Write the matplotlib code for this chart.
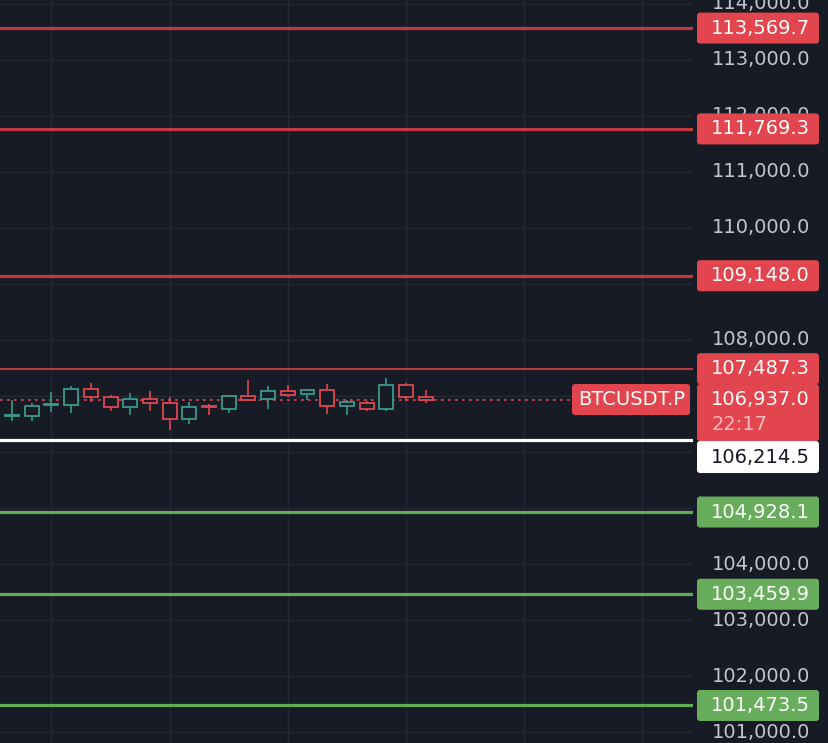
import matplotlib.pyplot as plt
from matplotlib.patches import FancyBboxPatch, Rectangle

plt.rcParams['font.family'] = ['DejaVu Sans']

# candles (open, high, low, close)
opens = [106650, 106638, 106845, 106834, 107130, 106977, 106809, 106952, 106870, 106584, 106813,
         106768, 107000, 106941, 107095, 107030, 107102, 106816, 106880, 106763, 107197, 106975]
highs = [106930, 106870, 107071, 107179, 107238, 107018, 107048, 107084, 106977, 106888, 106861,
         107018, 107286, 107173, 107202, 107125, 107209, 106929, 106916, 107327, 107227, 107107]
lows = [106545, 106559, 106714, 106702, 106898, 106737, 106661, 106737, 106393, 106495, 106666,
        106696, 106916, 106773, 106988, 106923, 106679, 106661, 106737, 106737, 106905, 106870]
closes = [106660, 106816, 106858, 107130, 106982, 106809, 106952, 106870, 106584, 106798, 106795,
          106995, 106934, 107095, 107023, 107102, 106816, 106888, 106763, 107197, 106977, 106937]

resistance = [113569.7, 111769.3, 109148.0]
near_resistance = 107487.3
pivot = 106214.5
support = [104928.1, 103459.9, 101473.5]
last_price = 106937.0
countdown = '22:17'
symbol = 'BTCUSDT.P'
axis_ticks = list(range(101000, 114001, 1000))

bg = '#171b26'
grid_c = '#252935'
up_c = '#3a9a8a'
down_c = '#e0474f'
red_line = '#c0393f'
red_lbl = '#e2454e'
green_line = '#5fae55'
green_lbl = '#67ad5b'
tick_c = '#c3c6ce'

W, H = 829, 743
fig = plt.figure(figsize=(W / 100, H / 100), dpi=100, facecolor=bg)
ax = fig.add_axes([0, 0, 693 / W, 1])
ax.set_facecolor(bg)

ymin, ymax = 100803.6, 114071.4
ppx = (ymax - ymin) / H  # price units per pixel
ax.set_ylim(ymin, ymax)
ax.set_xlim(-0.61, 34.57)

ax.set_xticks(range(2, 34, 6))
ax.set_yticks(axis_ticks)
ax.grid(True, color=grid_c, lw=1)
ax.tick_params(length=0, labelleft=False, labelbottom=False)
for s in ax.spines.values():
    s.set_visible(False)

# candles
bw = 0.71
for i, (o, h, l, c) in enumerate(zip(opens, highs, lows, closes)):
    col = up_c if c >= o else down_c
    ax.vlines(i, l, h, color=col, lw=1.2, zorder=3)
    lo, hi = min(o, c), max(o, c)
    ax.add_patch(Rectangle((i - bw / 2, lo), bw, max(hi - lo, ppx * 0.5),
                           facecolor=bg if hi - lo > ppx * 2 else col,
                           edgecolor=col, lw=1.3, zorder=4))

# horizontal levels
for p in resistance:
    ax.axhline(p, color=red_line, lw=2.3, zorder=2)
ax.axhline(near_resistance, color=red_line, lw=1.4, zorder=2)
ax.axhline(pivot, color='white', lw=2.3, zorder=2)
for p in support:
    ax.axhline(p, color=green_line, lw=2.3, zorder=2)
ax.axhline(last_price, color=down_c, lw=1.2, ls=(0, (1.6, 2.6)), zorder=2)

# price scale
ax2 = fig.add_axes([693 / W, 0, 136 / W, 1])
ax2.set_xlim(0, 136)
ax2.set_ylim(ymin, ymax)
ax2.axis('off')

fs = 14
cur_bot = last_price - 41.5 * ppx
pivot_mid = cur_bot - 16 * ppx
label_centres = resistance + [near_resistance, last_price, pivot_mid] + support

# tick labels that sit fully under a price tag are hidden, as on the chart
for t in axis_ticks:
    if min(abs(t - c) for c in label_centres) < 12 * ppx:
        continue
    ax2.text(117, t, f'{t:,.1f}', ha='right', va='center', color=tick_c, fontsize=fs, zorder=1)


def label(y_bot, h_px, face, ax_=ax2, x0=4, w=122):
    ax_.add_patch(FancyBboxPatch((x0, y_bot), w, h_px * ppx,
                                 boxstyle='round,pad=0,rounding_size=3',
                                 mutation_aspect=ppx, facecolor=face, edgecolor='none',
                                 zorder=5, clip_on=False))


for p in resistance + [near_resistance]:
    label(p - 15.5 * ppx, 31, red_lbl)
    ax2.text(117, p, f'{p:,.1f}', ha='right', va='center', color='white', fontsize=fs, zorder=6)
for p in support:
    label(p - 15.5 * ppx, 31, green_lbl)
    ax2.text(117, p, f'{p:,.1f}', ha='right', va='center', color='white', fontsize=fs, zorder=6)

# current price box with countdown
label(cur_bot, 57, red_lbl)
ax2.text(117, last_price, f'{last_price:,.1f}', ha='right', va='center', color='white',
         fontsize=fs, zorder=6)
ax2.text(19, last_price - 25 * ppx, countdown, ha='left', va='center', color='#f6bcc0',
         fontsize=fs, zorder=6)

# pivot box, pushed below the current price box
label(cur_bot - 32 * ppx, 32, 'white')
ax2.text(117, pivot_mid, f'{pivot:,.1f}', ha='right', va='center', color='#131722',
         fontsize=fs, zorder=6)

# symbol tag on the last price line
label(last_price - 15.5 * ppx, 31, red_lbl, x0=-121, w=118)
ax2.text(-61, last_price, symbol, ha='center', va='center', color='white', fontsize=fs,
         zorder=6, clip_on=False)

fig.savefig('out.png', dpi=100, facecolor=bg)
